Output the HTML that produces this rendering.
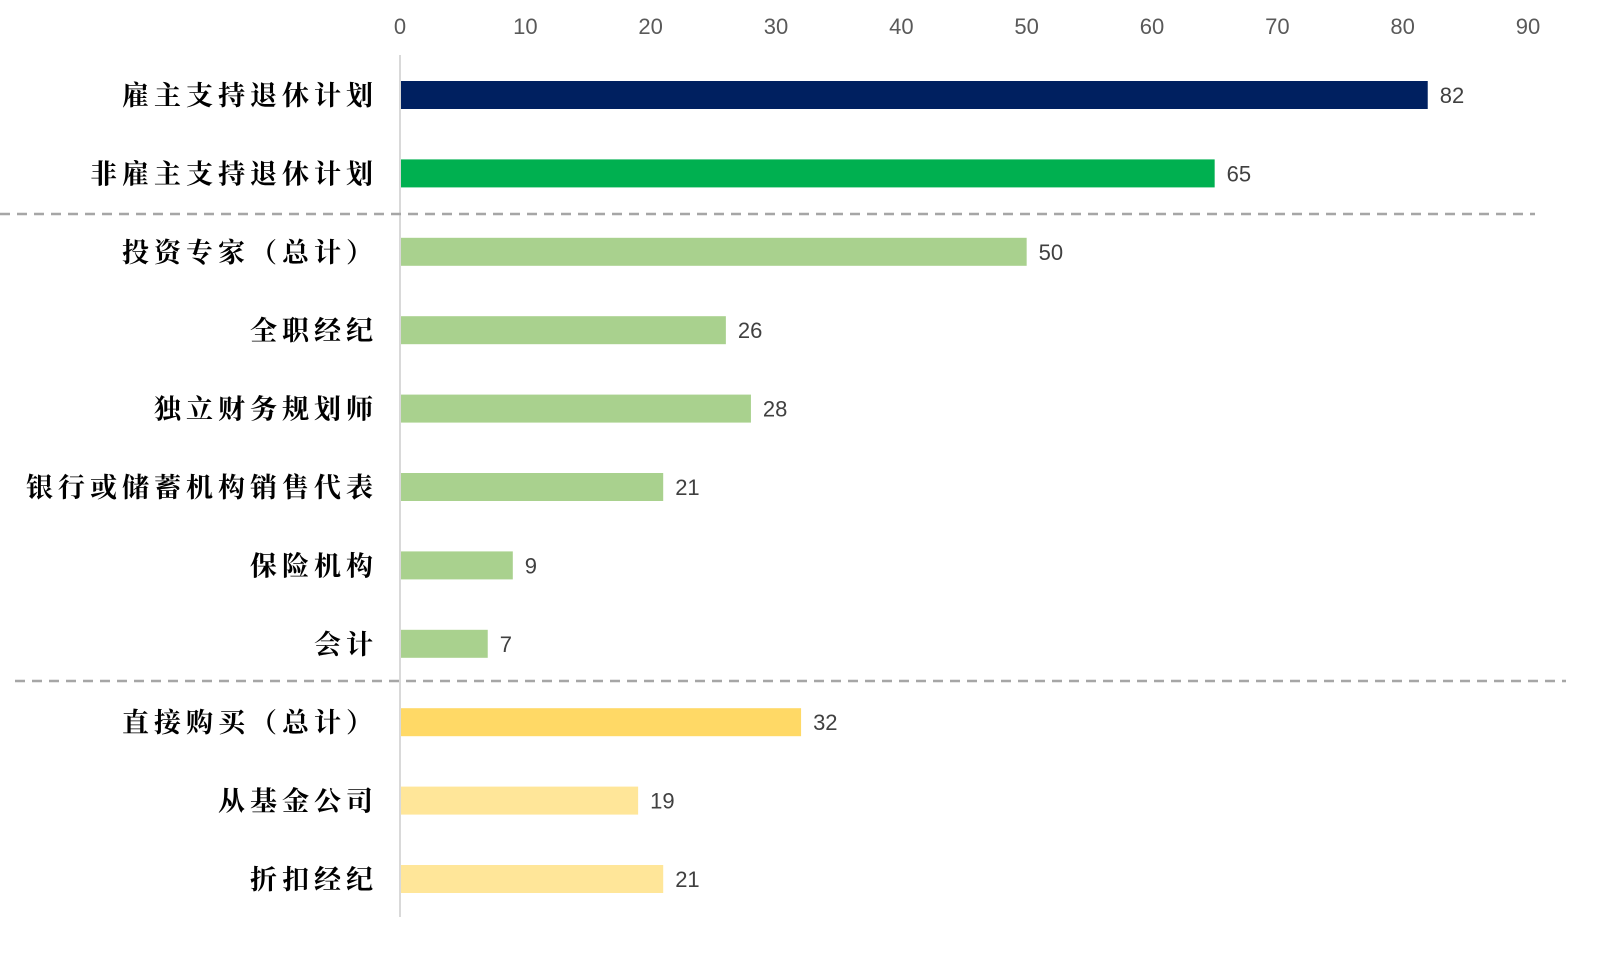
<!DOCTYPE html>
<html><head><meta charset="utf-8"><style>
body{margin:0;background:#fff;width:1598px;height:958px;overflow:hidden}
svg text{font-family:"Liberation Sans",sans-serif}
.lab{font-family:"Liberation Serif","Noto Serif CJK SC",serif;font-size:27px;font-weight:bold;letter-spacing:5px;fill:#000}
</style></head><body>
<svg id="c" width="1598" height="958"></svg>
<script>
const categories=["雇主支持退休计划","非雇主支持退休计划","投资专家（总计）","全职经纪","独立财务规划师","银行或储蓄机构销售代表","保险机构","会计","直接购买（总计）","从基金公司","折扣经纪"];
const values=[82,65,50,26,28,21,9,7,32,19,21];
const colors=["#002060","#00B050","#A9D18E","#A9D18E","#A9D18E","#A9D18E","#A9D18E","#A9D18E","#FFD966","#FFE699","#FFE699"];
const ticks=[0,10,20,30,40,50,60,70,80,90];
const NS="http://www.w3.org/2000/svg",svg=document.getElementById('c');
const x=v=>400+v*(1128/90);
const y=i=>95+i*78.4;
function el(t,a,p){const e=document.createElementNS(NS,t);for(const k in a)e.setAttribute(k,a[k]);(p||svg).appendChild(e);return e;}
ticks.forEach(t=>{const e=el('text',{x:x(t),y:34,'text-anchor':'middle','font-size':22,fill:'#595959'});e.textContent=t;

});
const ax=el('line',{x1:400,x2:400,y1:55,y2:917,stroke:'#d9d9d9','stroke-width':2});


[[0,1535,214],[15,1566,681]].forEach(d=>{const l=el('line',{x1:d[0],x2:d[1],y1:d[2],y2:d[2],stroke:'#a6a6a6','stroke-width':2.5,'stroke-dasharray':'10,7'});

});
categories.forEach((c,i)=>{
const t=el('text',{x:378,y:y(i)+10,'text-anchor':'end',class:'lab'});t.textContent=c;


const r=el('rect',{x:x(0)+1,y:y(i)-14,width:x(values[i])-x(0)-1,height:28,fill:colors[i]});


const v=el('text',{x:x(values[i])+12,y:y(i)+8,'font-size':22,fill:'#404040'});v.textContent=values[i];


});
</script>
</body></html>
